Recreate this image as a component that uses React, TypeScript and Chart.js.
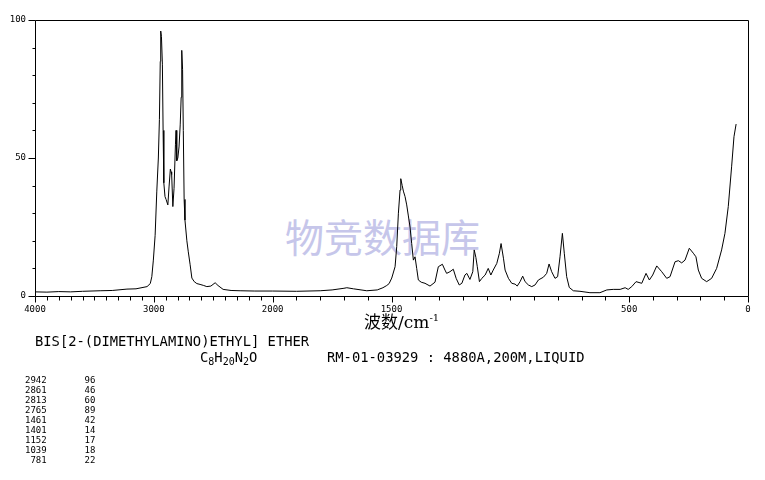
import React, { useEffect, useRef } from "react";
import { Chart, registerables } from "chart.js";

Chart.register(...registerables);

// Raman spectrum (wavenumber in cm-1, relative intensity)
const wavenumbers = [
  4000, 3900, 3800, 3700, 3600, 3452, 3350, 3226, 3150, 3057, 3030, 3017, 3004, 2989, 2975, 2962, 2953, 2946,
  2942, 2936, 2928, 2922, 2916, 2906, 2897, 2882, 2872, 2861, 2855, 2850, 2840, 2830, 2818, 2813, 2807, 2798,
  2788, 2778, 2770, 2765, 2758, 2752, 2745, 2738, 2722, 2710, 2695, 2680, 2660, 2638, 2611, 2580, 2554, 2520,
  2484, 2460, 2417, 2350, 2274, 2150, 2000, 1900, 1800, 1750, 1700, 1688, 1660, 1604, 1560, 1536, 1520, 1510,
  1499, 1485, 1478, 1471, 1464, 1461, 1455, 1450, 1443, 1436, 1429, 1422, 1415, 1408, 1401, 1394, 1387, 1375,
  1359, 1338, 1317, 1303, 1286, 1275, 1268, 1254, 1240, 1228, 1215, 1204, 1191, 1183, 1170, 1158, 1152, 1145,
  1139, 1130, 1120, 1106, 1093, 1082, 1072, 1057, 1046, 1039, 1029, 1022, 1008, 994, 980, 971, 959, 948, 938,
  924, 910, 896, 882, 861, 847, 837, 826, 812, 801, 791, 781, 773, 763, 752, 735, 707, 665, 623, 594, 567, 538,
  517, 504, 489, 471, 447, 429, 415, 401, 384, 363, 342, 328, 307, 293, 279, 265, 247, 230, 219, 209, 195, 174,
  153, 132, 111, 97, 83, 69, 59, 50,
];
const intensities = [
  1.5, 1.4, 1.6, 1.5, 1.7, 1.9, 2.0, 2.5, 2.6, 3.4, 4.5, 7, 13, 22, 38, 50, 64, 85,
  96, 94, 84, 60, 41, 36, 35, 33, 39.5, 46, 45, 44, 32.4, 39, 55, 60, 49, 50,
  54, 62, 72, 89, 82, 60, 35, 27.5, 20, 16, 11.5, 6.5, 5.2, 4.5, 4.2, 3.8, 3.4, 3.6,
  4.8, 3.8, 2.4, 2.0, 1.9, 1.8, 1.8, 1.7, 1.9, 2.2, 2.8, 3.0, 2.6, 1.9, 2.2, 3.0, 3.8, 4.5,
  6.5, 10.6, 17.9, 30, 38.4, 42.5, 40, 38, 36, 33, 29, 25, 19, 13, 14.2, 10, 5.8, 5.0,
  4.6, 3.6, 5.0, 10.6, 11.5, 9.4, 8.2, 8.8, 9.7, 6.4, 4.0, 4.6, 7.6, 8.2, 6.0, 8.8, 16.7, 14,
  10.6, 5.2, 6.4, 7.6, 10, 7.6, 9.4, 11.8, 15.5, 19, 13.7, 9.4, 6.4, 4.6, 4.3, 3.6, 5.2, 7.2, 5.2,
  4.0, 3.4, 4.0, 5.8, 6.8, 8.2, 11.6, 8.8, 6.4, 7.0, 14.2, 22.7, 15.5, 7.0, 3.1, 1.9, 1.7, 1.2, 1.2, 2.2, 2.4, 2.4,
  3.0, 2.4, 3.4, 5.2, 4.6, 8.2, 5.8, 7.6, 10.9, 8.8, 6.4, 7.0, 12.4, 12.8, 12.0, 13.0, 17.3, 15.5, 14.2, 9.4, 6.4, 5.2,
  6.4, 10, 16.7, 22.7, 32.4, 46.8, 57.7, 62.3,
];

const xTickLabels = [4000, 3000, 2000, 1500, 500, 0];
const xMinorStep = 100;
const yTickLabels = [0, 50, 100];
const yMinorStep = 10;

const peakWavenumbers = [2942, 2861, 2813, 2765, 1461, 1401, 1152, 1039, 781];
const peakIntensities = [96, 46, 60, 89, 42, 14, 17, 18, 22];

const compoundName = "BIS[2-(DIMETHYLAMINO)ETHYL] ETHER";
const sampleInfo = "RM-01-03929 : 4880A,200M,LIQUID";
const watermark = "物竞数据库";

// axis is compressed by half above 2000 cm-1
const toT = (w: number) => (w <= 2000 ? w : 2000 + (w - 2000) / 2);
const fromT = (t: number) => (t <= 2000 ? t : 2000 + (t - 2000) * 2);

const W = 765;
const H = 480;
const LEFT = 35;
const RIGHT = 748;
const TOP = 20;
const BOTTOM = 296;

const mono = '"DejaVu Sans Mono", "Liberation Mono", monospace';

const framePlugin = {
  id: "frame",
  afterDraw(chart: any) {
    const { ctx, chartArea: a, scales } = chart;
    const xs = scales.x;
    const ys = scales.y;
    ctx.save();
    ctx.strokeStyle = "#000";
    ctx.lineWidth = 1;
    ctx.beginPath();
    const l = Math.round(a.left) + 0.5;
    const r = Math.round(a.right) + 0.5;
    const t = Math.round(a.top) + 0.5;
    const b = Math.round(a.bottom) + 0.5;
    ctx.rect(l, t, r - l, b - t);
    xs.ticks.forEach((tk: any) => {
      const w = Math.round(fromT(tk.value));
      const px = Math.round(xs.getPixelForValue(tk.value)) + 0.5;
      const len = xTickLabels.includes(w) ? 6 : 4;
      ctx.moveTo(px, b);
      ctx.lineTo(px, b + len);
    });
    ys.ticks.forEach((tk: any) => {
      const py = Math.round(ys.getPixelForValue(tk.value)) + 0.5;
      const len = yTickLabels.includes(tk.value) ? 7 : 3;
      ctx.moveTo(l, py);
      ctx.lineTo(l - len, py);
    });
    ctx.stroke();
    ctx.restore();
  },
};

function SpectrumChart() {
  const ref = useRef<HTMLCanvasElement | null>(null);
  useEffect(() => {
    if (!ref.current) return;
    const data = wavenumbers.map((w, i) => ({ x: toT(w), y: intensities[i] }));
    const xTickValues: number[] = [];
    for (let w = 4000; w >= 0; w -= xMinorStep) xTickValues.push(toT(w));
    const yTickValues: number[] = [];
    for (let v = 0; v <= 100; v += yMinorStep) yTickValues.push(v);

    const chart = new Chart(ref.current, {
      type: "line",
      data: {
        datasets: [
          {
            data,
            borderColor: "#000",
            borderWidth: 1,
            pointRadius: 0,
            fill: false,
            tension: 0,
          },
        ],
      },
      options: {
        animation: false,
        responsive: false,
        maintainAspectRatio: false,
        events: [],
        layout: { padding: { left: 0, right: W - RIGHT, top: TOP, bottom: 0 } },
        plugins: { legend: { display: false }, tooltip: { enabled: false } },
        scales: {
          x: {
            type: "linear",
            reverse: true,
            min: 0,
            max: toT(4000),
            afterBuildTicks: (s: any) => {
              s.ticks = xTickValues.map((v) => ({ value: v }));
            },
            afterFit: (s: any) => {
              s.height = H - BOTTOM;
            },
            grid: { display: true, drawOnChartArea: false, drawTicks: false },
            border: { display: false },
            ticks: {
              autoSkip: false,
              maxRotation: 0,
              minRotation: 0,
              padding: 8,
              color: "#000",
              font: { family: mono, size: 9 },
              callback: (v: any) => {
                const w = Math.round(fromT(Number(v)));
                return xTickLabels.includes(w) ? String(w) : "";
              },
            },
          },
          y: {
            type: "linear",
            min: 0,
            max: 100,
            afterBuildTicks: (s: any) => {
              s.ticks = yTickValues.map((v) => ({ value: v }));
            },
            afterFit: (s: any) => {
              s.width = LEFT;
            },
            grid: { display: true, drawOnChartArea: false, drawTicks: false },
            border: { display: false },
            ticks: {
              autoSkip: false,
              padding: 9,
              color: "#000",
              font: { family: mono, size: 9 },
              callback: (v: any) => (yTickLabels.includes(Number(v)) ? String(v) : ""),
            },
          },
        },
      },
      plugins: [framePlugin],
    } as any);
    return () => chart.destroy();
  }, []);
  return (
    <canvas
      ref={ref}
      width={W}
      height={H}
      style={{ position: "absolute", left: 0, top: 0, width: W, height: H }}
    />
  );
}

export default function App() {
  const textStyle: React.CSSProperties = {
    position: "absolute",
    fontFamily: mono,
    fontSize: 13.8,
    lineHeight: 1,
    color: "#000",
    whiteSpace: "pre",
  };
  const sub: React.CSSProperties = { fontSize: 10, verticalAlign: -3 };
  return (
    <div
      style={{
        position: "fixed",
        left: 0,
        top: 0,
        width: W,
        height: H,
        background: "#fff",
        overflow: "hidden",
      }}
    >
      <div
        style={{
          position: "absolute",
          left: 285,
          top: 216,
          fontFamily: '"Noto Sans CJK SC", sans-serif',
          fontSize: 39,
          lineHeight: 1,
          color: "#c6c6ea",
          whiteSpace: "pre",
        }}
      >
        {watermark}
      </div>
      <SpectrumChart />
      <div
        style={{
          position: "absolute",
          left: 364,
          top: 313,
          fontFamily: '"DejaVu Serif", "Noto Sans CJK SC", serif',
          fontSize: 17,
          lineHeight: 1,
          color: "#000",
          whiteSpace: "pre",
        }}
      >
        波数/cm<sup style={{ fontSize: 10 }}>-1</sup>
      </div>
      <div style={{ ...textStyle, left: 35, top: 334.5 }}>{compoundName}</div>
      <div style={{ ...textStyle, left: 200, top: 350.5 }}>
        C<span style={sub}>8</span>H<span style={sub}>20</span>N<span style={sub}>2</span>O
      </div>
      <div style={{ ...textStyle, left: 327, top: 350.5 }}>{sampleInfo}</div>
      {peakWavenumbers.map((w, i) => (
        <div
          key={w}
          style={{
            position: "absolute",
            left: 25,
            top: 376 + i * 10,
            fontFamily: mono,
            fontSize: 9,
            lineHeight: 1,
            color: "#000",
            whiteSpace: "pre",
          }}
        >
          {String(w).padStart(4, " ") + "      " + String(peakIntensities[i]).padStart(3, " ")}
        </div>
      ))}
    </div>
  );
}
